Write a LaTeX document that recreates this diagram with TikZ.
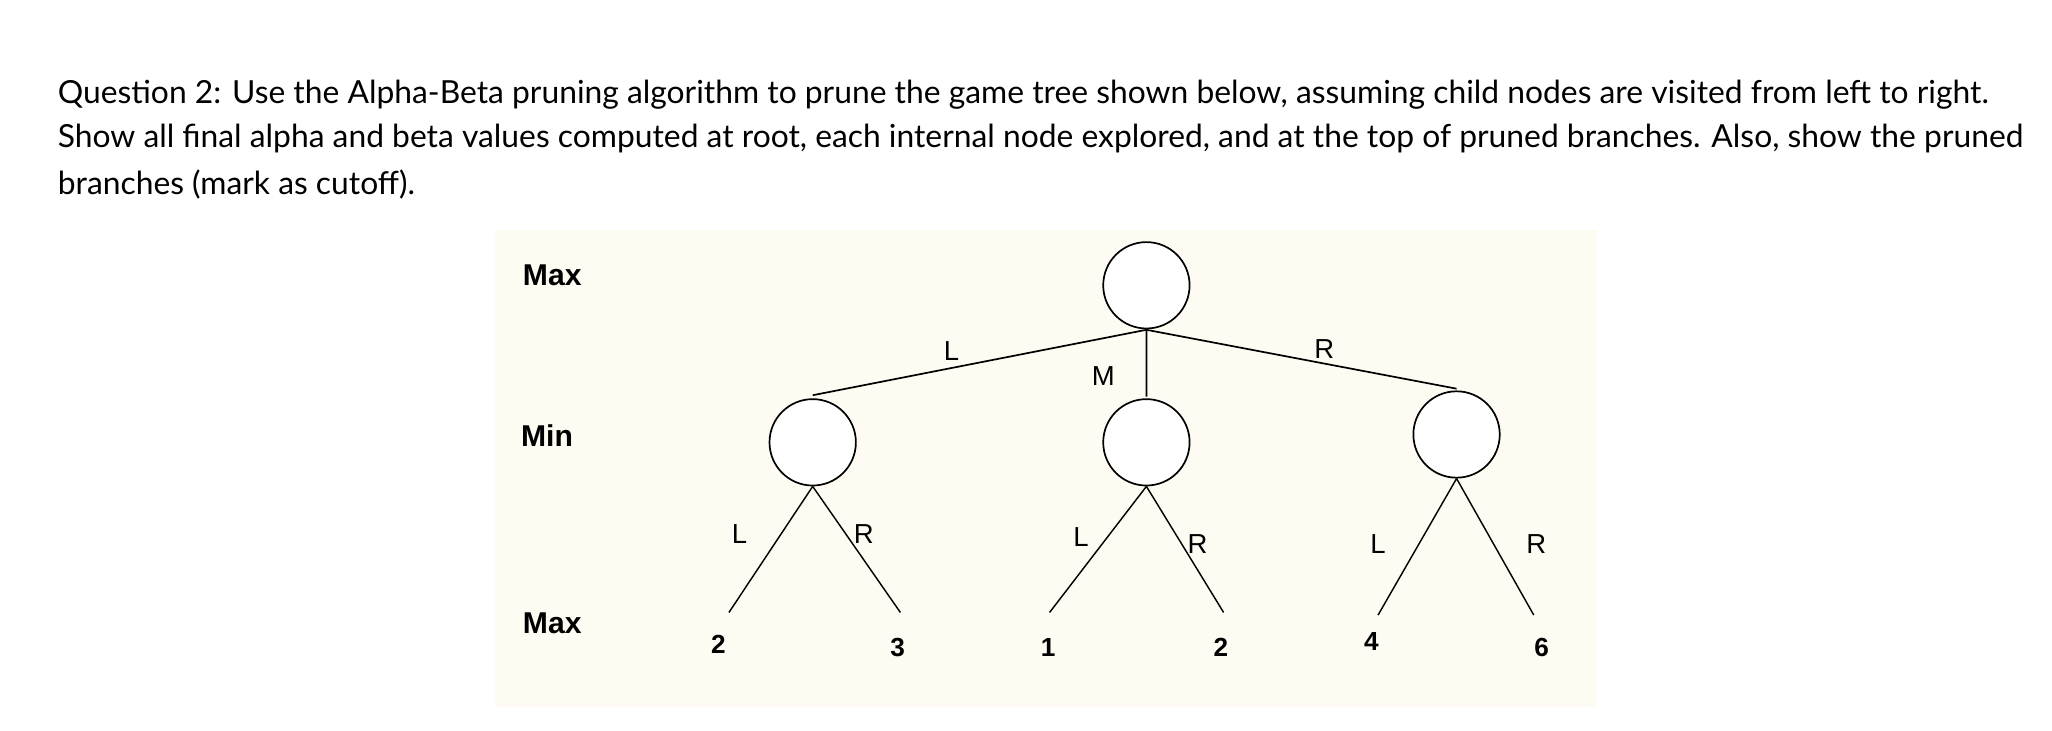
\documentclass[tikz,border=0pt]{standalone}
\usepackage{fontspec}
\setmainfont{Lato}
\newfontfamily\arialfont{Liberation Sans}
\usetikzlibrary{positioning}
\definecolor{panel}{HTML}{FDFBF2}
\begin{document}
\begin{tikzpicture}[x=1pt,y=-1pt]
    \tikzset{state/.style={draw,circle,minimum size=66pt,inner sep=0pt,line width=1.3pt,fill=white},
      level/.style={font=\arialfont\bfseries\fontsize{23}{26}\selectfont},
      branch/.style={font=\arialfont\fontsize{21}{24}\selectfont},
      leaf/.style={font=\arialfont\bfseries\fontsize{20}{22}\selectfont},
      question/.style={anchor=west,inner sep=0pt,font=\fontsize{24.3}{28}\selectfont}}
    \useasboundingbox (0,0) rectangle (1568,558);
    \fill[white] (0,0) rectangle (1568,558);
    % question text
    \node[question] (q1) at (44,72) {Question 2: Use the Alpha-Beta pruning algorithm to prune the game tree shown below, assuming child nodes are visited from left to right.};
    \node[question] (q2) at (44,106) {Show all final alpha and beta values computed at root, each internal node explored, and at the top of pruned branches. Also, show the pruned};
    \node[question] (q3) at (44,141) {branches (mark as cutoff).};
    % tree panel
    \fill[panel] (378,176) rectangle (1220,540);
    \node[level] (maxtop) at (422,210) {Max};
    \node[level] (min) at (418,333) {Min};
    \node[level] (maxbot) at (422,476) {Max};
    \coordinate (hub) at (876,252);
    \draw[line width=1.3pt] (hub) -- (621,302) (hub) -- (876,303) (hub) -- (1113,297);
    \node[state] (root) at (876,218) {};
    \node[state] (a) at (621,338) {};
    \node[state] (b) at (876,338) {};
    \node[state] (c) at (1113,332) {};
    \node[branch] at (727,268) {L};
    \node[branch] at (843,287) {M};
    \node[branch] at (1012,267) {R};
    % leaves
    \coordinate (a1) at (557,468); \coordinate (a2) at (688,468);
    \coordinate (b1) at (802,468); \coordinate (b2) at (935,468);
    \coordinate (c1) at (1053,470); \coordinate (c2) at (1172,470);
    \draw[line width=1.1pt] (a.south) -- (a1) (a.south) -- (a2)
      (b.south) -- (b1) (b.south) -- (b2)
      (c.south) -- (c1) (c.south) -- (c2);
    \node[branch] at (565,408) {L};
    \node[branch] at (660,408) {R};
    \node[branch] at (826,410) {L};
    \node[branch] at (915,416) {R};
    \node[branch] at (1053,416) {L};
    \node[branch] at (1174,416) {R};
    \node[leaf] (la) at (549,492) {2};
    \node[leaf] (lb) at (686,495) {3};
    \node[leaf] (lc) at (801,495) {1};
    \node[leaf] (ld) at (933,495) {2};
    \node[leaf] (le) at (1048,490) {4};
    \node[leaf] (lf) at (1178,495) {6};
\end{tikzpicture}
\end{document}
